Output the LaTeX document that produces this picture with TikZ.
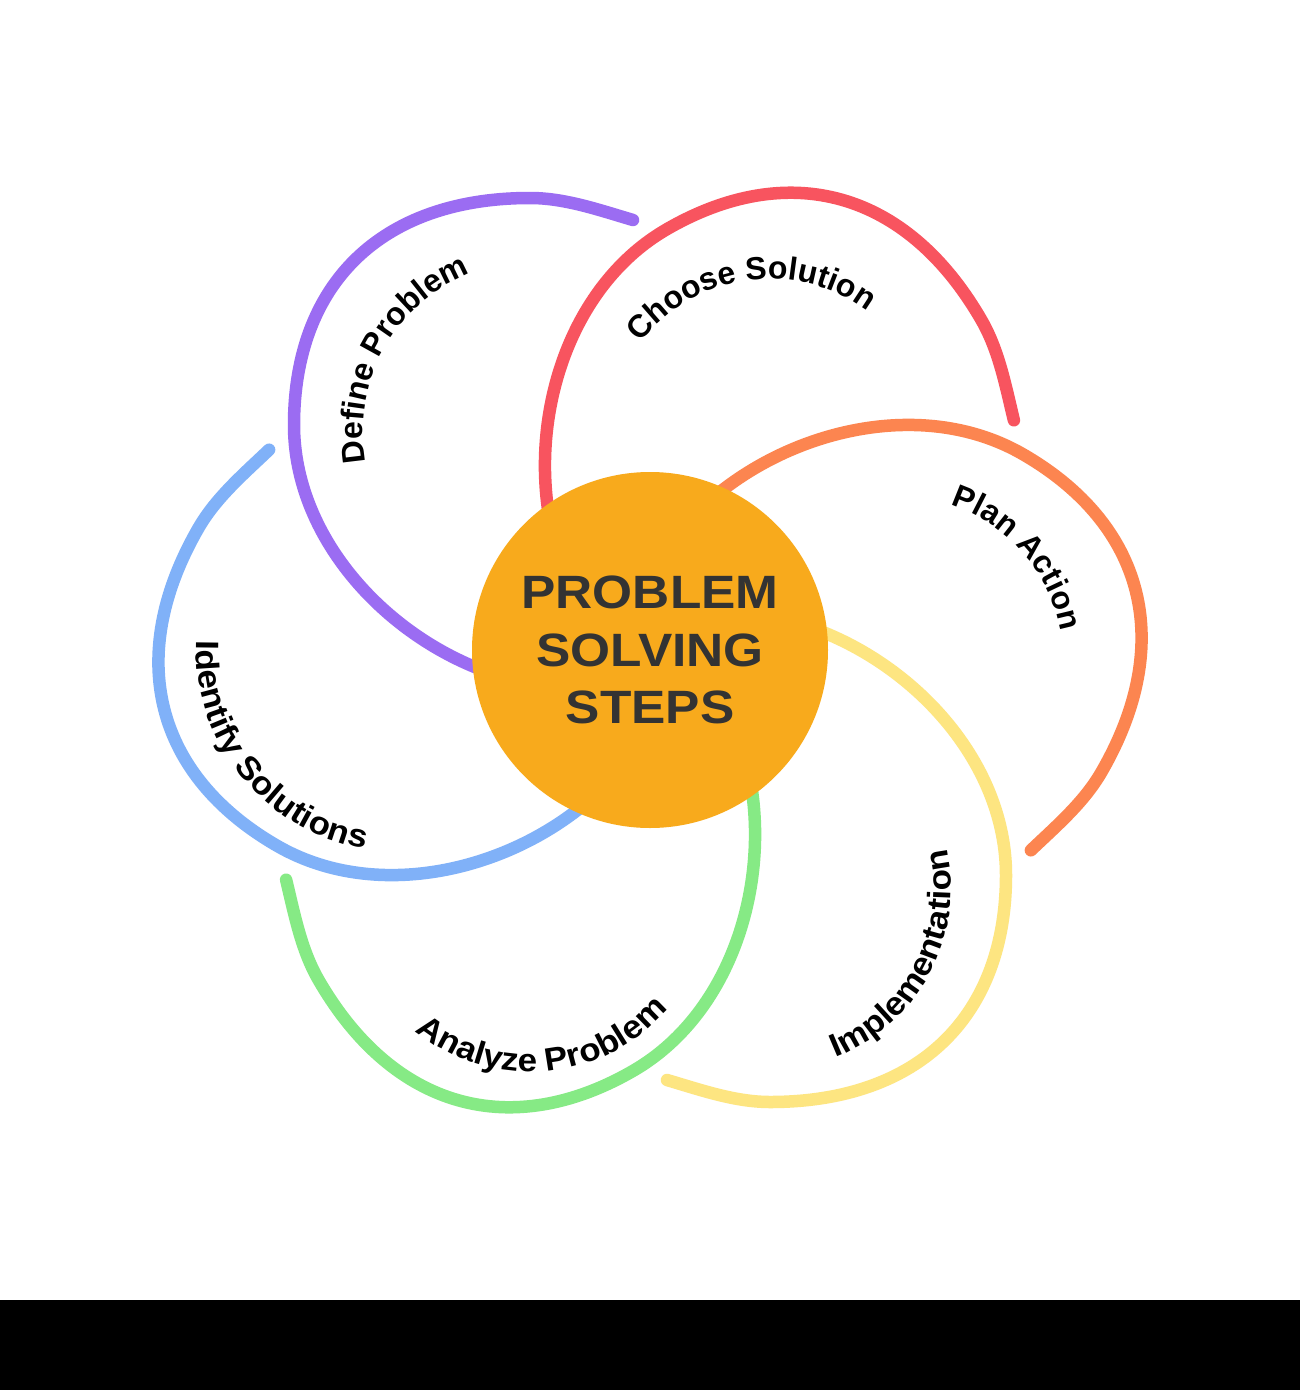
\documentclass[tikz,border=0pt]{standalone}
\usepackage{fontspec}
\usepackage{xcolor}
\usepackage{tikz}
\usetikzlibrary{positioning,decorations.text}
\newfontfamily\lblfamily{Liberation Sans}
\newfontfamily\lblwidefamily{Liberation Sans}[FakeStretch=1.08]
\newfontfamily\hubfamily{Liberation Sans}[FakeStretch=1.1]
\newcommand{\lblfont}{\lblfamily\bfseries\fontsize{9.1}{11}\selectfont}
\newcommand{\lblwidefont}{\lblwidefamily\bfseries\fontsize{9.2}{11}\selectfont}
\definecolor{hubfill}{HTML}{F8AA1C}
\definecolor{hubtext}{HTML}{333333}
\definecolor{petalpurple}{HTML}{9B6CF2}
\definecolor{petalred}{HTML}{F8545F}
\definecolor{petalorange}{HTML}{FC8550}
\definecolor{petalyellow}{HTML}{FDE581}
\definecolor{petalgreen}{HTML}{86EA85}
\definecolor{petalblue}{HTML}{80B1F8}
\tikzset{
  petalline/.style={line width=1.25mm, line cap=round},
  hubcircle/.style={circle, fill=hubfill, minimum size=35.6mm, inner sep=0pt, align=center, text=hubtext, font=\hubfamily\bfseries\fontsize{13.3}{16.4}\selectfont},
  toplabel/.style={decorate, decoration={text along path, text align=center, text={|\lblfont|#1}}},
  lowlabel/.style={decorate, decoration={text along path, text align=center, text={|\lblwidefont|#1}}},
  pics/petal/.style={code={
    \draw[petalline, #1] (-165,-21) .. controls (-268,17) and (-356,115) .. (-356,225)
      .. controls (-356,365) and (-270,452) .. (-120,452)
      .. controls (-85,452) and (-51,440) .. (-17,430);
  }}
}
\begin{document}
\begin{tikzpicture}[x=0.1mm, y=0.1mm]
  \fill[white] (0,0) rectangle (1300,-1390);
  \fill[black] (0,-1300) rectangle (1300,-1390);
  \coordinate (mid) at (650,-650);

  % six petals round the hub
  \pic[rotate=60] at (mid) {petal=petalblue};
  \pic at (mid) {petal=petalpurple};
  \pic[rotate=-60] at (mid) {petal=petalred};
  \pic[rotate=-120] at (mid) {petal=petalorange};
  \pic[rotate=180] at (mid) {petal=petalyellow};
  \pic[rotate=120] at (mid) {petal=petalgreen};

  \node[hubcircle] (hub) at (mid) {PROBLEM\\SOLVING\\STEPS};

  % step labels
  \path[toplabel=Define Problem] (532,-431) ++(221:169) arc[start angle=221, end angle=81, radius=169];
  \path[toplabel=Choose Solution] (770,-442) ++(168:163) arc[start angle=168, end angle=28, radius=163];
  \path[toplabel=Plan Action] (900,-660) ++(111:163) arc[start angle=111, end angle=-29, radius=163];
  \path[lowlabel=Implementation] (769,-888) ++(-98:182) arc[start angle=-98, end angle=42, radius=182];
  \path[lowlabel=Analyze Problem] (530,-890) ++(-155:182) arc[start angle=-155, end angle=-15, radius=182];
  \path[lowlabel=Identify Solutions] (400,-648) ++(149:204) arc[start angle=149, end angle=289, radius=204];
\end{tikzpicture}
\end{document}
